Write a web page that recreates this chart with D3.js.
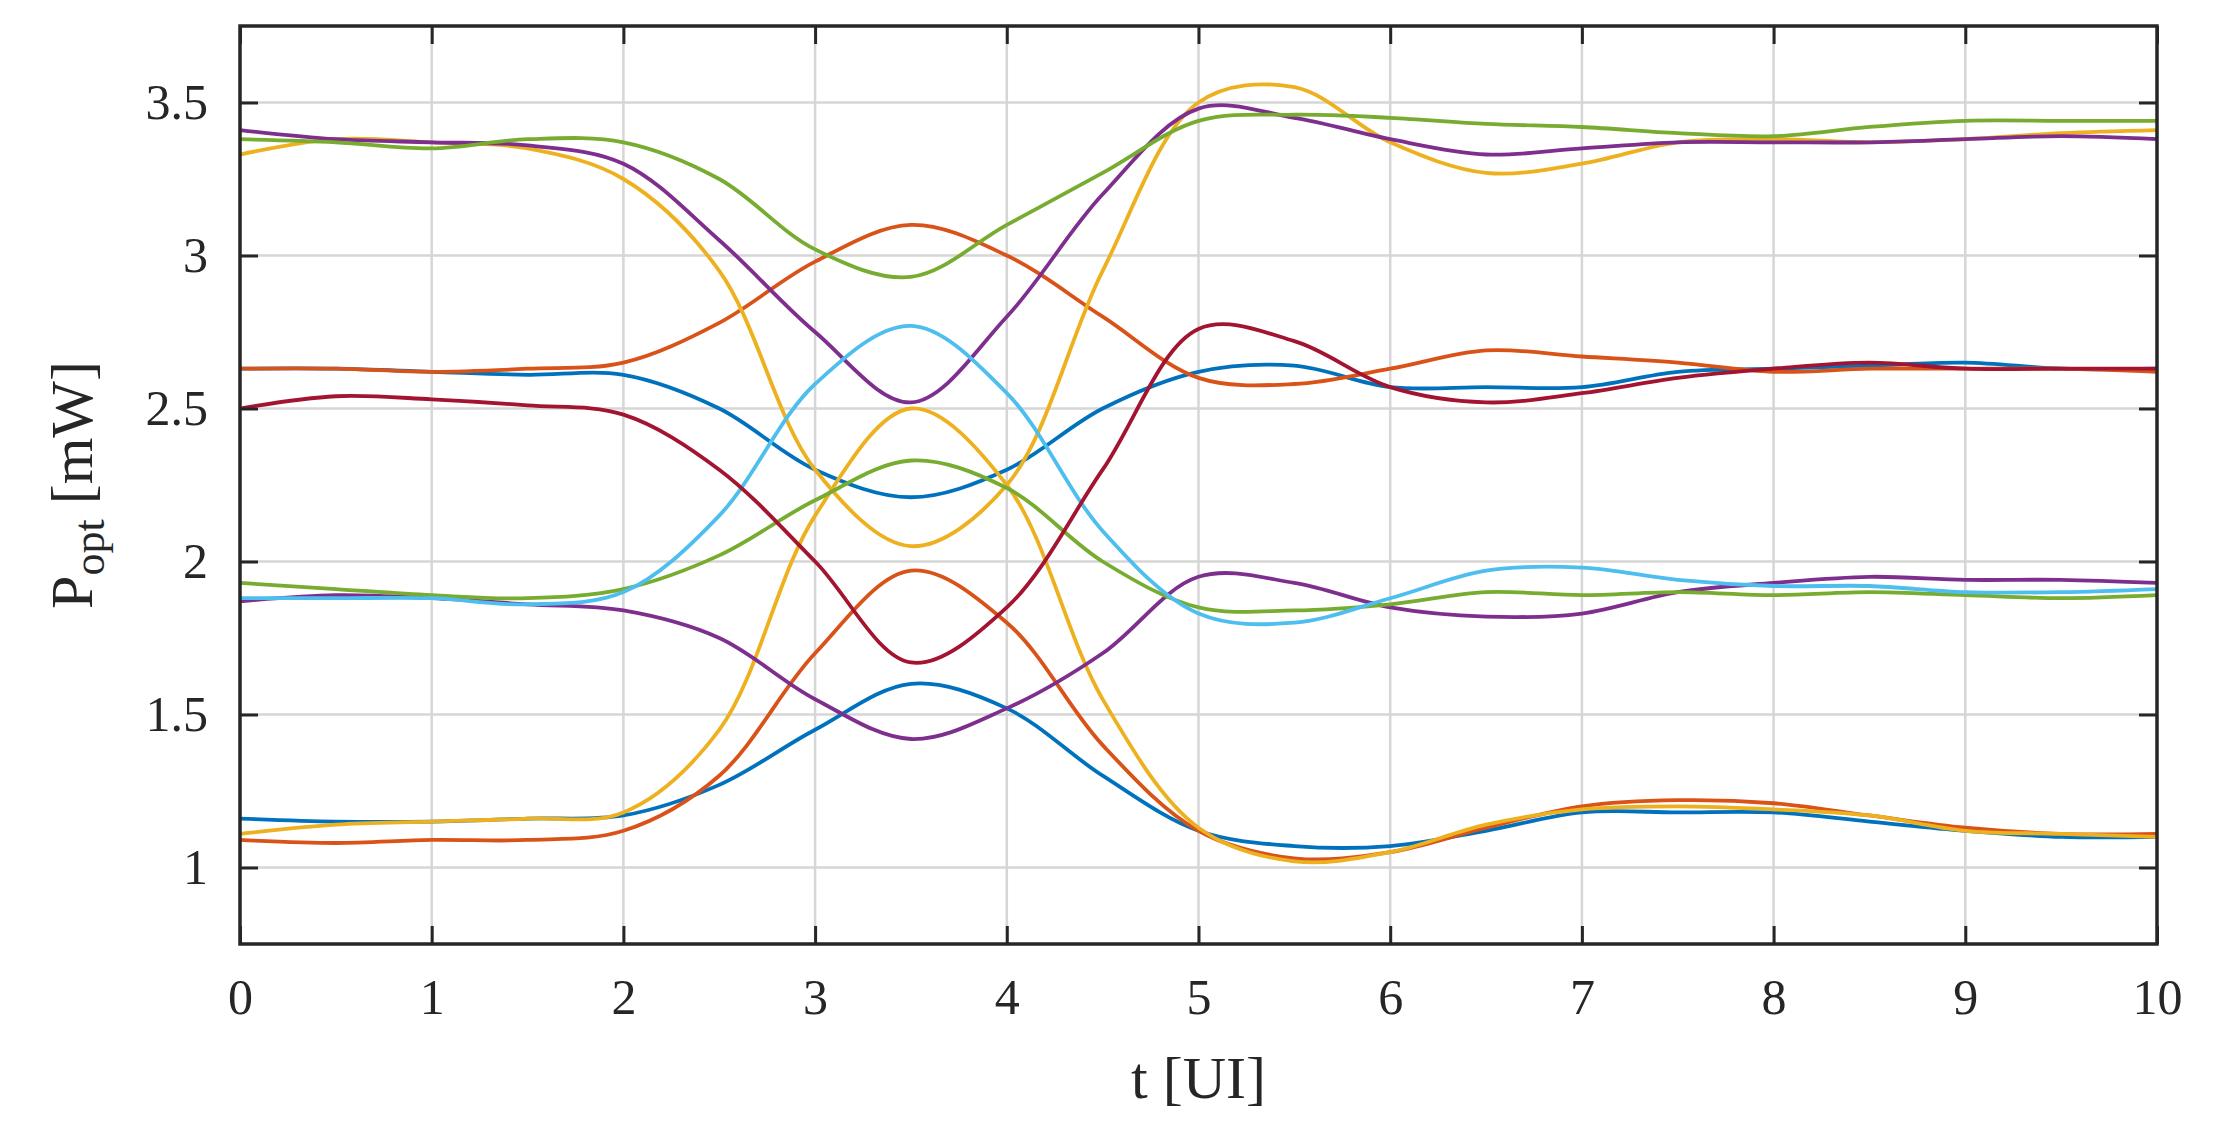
<!DOCTYPE html>
<html><head><meta charset="utf-8">
<script src="https://cdn.jsdelivr.net/npm/d3@7"></script>
<style>body{margin:0;background:#fff}</style>
</head><body><div id="c"></div>
<script>
// t samples every 0.5 UI
const tVals = d3.range(0, 10.01, 0.5);
const xTicks = d3.range(0, 11);
const yTicks = [1, 1.5, 2, 2.5, 3, 3.5];
const tickFmt = d => String(d);

const blueTop    = [2.63,2.63,2.62,2.61,2.61,2.50,2.30,2.21,2.30,2.50,2.62,2.64,2.57,2.57,2.57,2.62,2.63,2.64,2.65,2.63,2.63];
const blueBot    = [1.16,1.15,1.15,1.16,1.17,1.27,1.45,1.60,1.52,1.30,1.12,1.07,1.07,1.12,1.18,1.18,1.18,1.15,1.12,1.10,1.10];
const orangeTop  = [2.63,2.63,2.62,2.63,2.65,2.78,2.98,3.10,3.00,2.80,2.60,2.58,2.63,2.69,2.67,2.65,2.62,2.63,2.63,2.63,2.62];
const orangeBot  = [1.09,1.08,1.09,1.09,1.12,1.30,1.70,1.97,1.80,1.40,1.12,1.03,1.05,1.13,1.20,1.22,1.21,1.17,1.13,1.11,1.11];
const yellowTop  = [3.33,3.38,3.37,3.35,3.25,2.95,2.30,2.05,2.25,2.95,3.50,3.55,3.37,3.27,3.30,3.37,3.38,3.37,3.38,3.40,3.41];
const yellowBot  = [1.11,1.14,1.15,1.16,1.18,1.45,2.15,2.50,2.25,1.55,1.13,1.02,1.05,1.14,1.19,1.20,1.19,1.17,1.12,1.11,1.10];
const purpleTop  = [3.41,3.38,3.37,3.36,3.30,3.05,2.75,2.52,2.80,3.20,3.48,3.45,3.38,3.33,3.35,3.37,3.37,3.37,3.38,3.39,3.38];
const purpleBot  = [1.87,1.89,1.88,1.86,1.84,1.75,1.55,1.42,1.52,1.70,1.95,1.93,1.85,1.82,1.83,1.90,1.93,1.95,1.94,1.94,1.93];
const greenTop   = [3.38,3.37,3.35,3.38,3.37,3.25,3.02,2.93,3.10,3.27,3.44,3.46,3.45,3.43,3.42,3.40,3.39,3.42,3.44,3.44,3.44];
const greenBot   = [1.93,1.91,1.89,1.88,1.91,2.02,2.20,2.33,2.24,2.00,1.85,1.84,1.86,1.90,1.89,1.90,1.89,1.90,1.89,1.88,1.89];
const lightBlue  = [1.88,1.88,1.88,1.86,1.90,2.15,2.58,2.77,2.55,2.10,1.83,1.80,1.88,1.97,1.98,1.94,1.92,1.92,1.90,1.90,1.91];
const darkRed    = [2.50,2.54,2.53,2.51,2.48,2.30,2.00,1.67,1.85,2.30,2.76,2.72,2.57,2.52,2.55,2.60,2.63,2.65,2.63,2.63,2.63];

const series = [
  [blueTop, "#0072BD"], [blueBot, "#0072BD"],
  [orangeTop, "#D95319"], [orangeBot, "#D95319"],
  [yellowTop, "#EDB120"], [yellowBot, "#EDB120"],
  [purpleTop, "#7E2F8E"], [purpleBot, "#7E2F8E"],
  [greenTop, "#77AC30"], [greenBot, "#77AC30"],
  [lightBlue, "#4DBEEE"], [darkRed, "#A2142F"]
];

const W = 2215, H = 1131;
const m = {left: 240, right: 2157, top: 26, bottom: 944};
const svg = d3.select("#c").append("svg").attr("width", W).attr("height", H)
  .style("font-family", "'Liberation Serif', serif");

const x = d3.scaleLinear().domain([0, 10]).range([m.left, m.right]);
const y = d3.scaleLinear().domain([0.75, 3.75]).range([m.bottom, m.top]);

// grid
svg.append("g").selectAll("line").data(xTicks.slice(1, -1)).enter().append("line")
  .attr("x1", d => x(d)).attr("x2", d => x(d)).attr("y1", m.top).attr("y2", m.bottom)
  .attr("stroke", "#d6d6d6").attr("stroke-width", 2.5);
svg.append("g").selectAll("line").data(yTicks).enter().append("line")
  .attr("y1", d => y(d)).attr("y2", d => y(d)).attr("x1", m.left).attr("x2", m.right)
  .attr("stroke", "#d6d6d6").attr("stroke-width", 2.5);

// lines
const line = d3.line().x((d, i) => x(tVals[i])).y(d => y(d)).curve(d3.curveCatmullRom);
svg.append("g").selectAll("path").data(series).enter().append("path")
  .attr("d", d => line(d[0])).attr("fill", "none")
  .attr("stroke", d => d[1]).attr("stroke-width", 3.8);

// axes with inward ticks on all sides
const ax = (g, axis) => { g.call(axis); g.select(".domain").remove();
  g.selectAll("line").attr("stroke", "#262626").attr("stroke-width", 3);
  g.selectAll("text").attr("fill", "#262626").style("font-size", "50px").style("font-family", "'Liberation Serif', serif"); };
svg.append("g").attr("transform", `translate(0,${m.bottom})`)
  .call(g => ax(g, d3.axisBottom(x).tickValues(xTicks).tickFormat(tickFmt).tickSize(-18).tickPadding(34)));
svg.append("g").attr("transform", `translate(0,${m.top})`)
  .call(g => ax(g, d3.axisTop(x).tickValues(xTicks).tickSize(-18).tickFormat("")));
svg.append("g").attr("transform", `translate(${m.left},0)`)
  .call(g => ax(g, d3.axisLeft(y).tickValues(yTicks).tickFormat(tickFmt).tickSize(-18).tickPadding(32)));
svg.append("g").attr("transform", `translate(${m.right},0)`)
  .call(g => ax(g, d3.axisRight(y).tickValues(yTicks).tickSize(-18).tickFormat("")));

svg.append("rect").attr("x", m.left).attr("y", m.top)
  .attr("width", m.right - m.left).attr("height", m.bottom - m.top)
  .attr("fill", "none").attr("stroke", "#262626").attr("stroke-width", 3.5);

svg.append("text").attr("x", x(5)).attr("y", 1098).attr("text-anchor", "middle")
  .attr("fill", "#262626").style("font-size", "60px").text("t [UI]");
const yl = svg.append("text").attr("transform", `translate(92,${(m.top + m.bottom) / 2}) rotate(-90)`)
  .attr("text-anchor", "middle").attr("fill", "#262626").style("font-size", "60px");
yl.append("tspan").text("P");
yl.append("tspan").attr("dy", 12).style("font-size", "44px").text("opt");
yl.append("tspan").attr("dy", -12).text(" [mW]");
</script></body></html>
